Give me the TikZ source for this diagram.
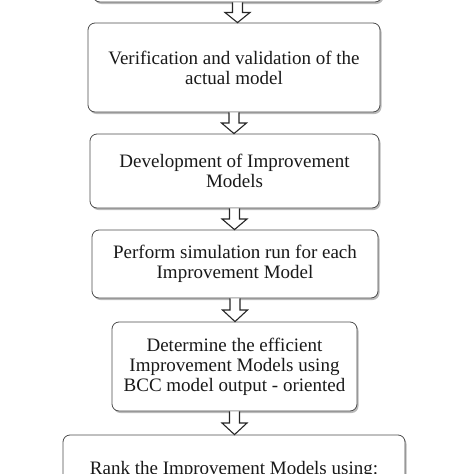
\documentclass[tikz,border=0pt]{standalone}
\usepackage{fontspec}
\setmainfont{Liberation Serif}
\usetikzlibrary{calc,shadows}

% hollow block arrow between two stages
\newcommand{\downblock}[2]{%
  \draw[blockarrow] let \p1=(#1.south), \p2=(#2.north),
      \p3=($(#1.south)!.5!(#2.north)$) in
    (\x1-5pt,\y1) -- (\x1-5pt,\y3) -- (\x1-12.5pt,\y3) -- (\x1,\y2)
    -- (\x1+12.5pt,\y3) -- (\x1+5pt,\y3) -- (\x1+5pt,\y1);}

\begin{document}
\begin{tikzpicture}[x=1pt, y=-1pt, font=\fontsize{19}{20}\selectfont,
  every node/.style={align=center},
  stage/.style={draw=black!70, line width=0.8pt, rounded corners=7pt, fill=white,
    inner sep=0pt, text=black!90,
    drop shadow={shadow xshift=1.5pt, shadow yshift=-2pt, opacity=0.45, fill=black!60}},
  blockarrow/.style={draw=black!85, line width=1.1pt, fill=white, line join=miter}]
  \useasboundingbox (0,0) rectangle (474,474);
  \clip (0,0) rectangle (474,474);
  \node[stage, minimum width=289, minimum height=64] (prev) at (237.5,-30) {};
  \node[stage, minimum width=292, minimum height=89] (verify) at (234,67.5)
    {Verification and validation of the\\actual model};
  \node[stage, minimum width=289, minimum height=74] (develop) at (234.5,171)
    {Development of Improvement\\Models};
  \node[stage, minimum width=286, minimum height=68] (simrun) at (235,264)
    {Perform simulation run for each\\Improvement Model};
  \node[stage, minimum width=245, minimum height=89] (efficient) at (234.5,366.5)
    {Determine the efficient\\Improvement Models using\\BCC model output - oriented};
  \node[stage, minimum width=342, minimum height=70] (rank) at (234,470)
    {Rank the Improvement Models using:};
  \downblock{prev}{verify}
  \downblock{verify}{develop}
  \downblock{develop}{simrun}
  \downblock{simrun}{efficient}
  \downblock{efficient}{rank}
\end{tikzpicture}
\end{document}
